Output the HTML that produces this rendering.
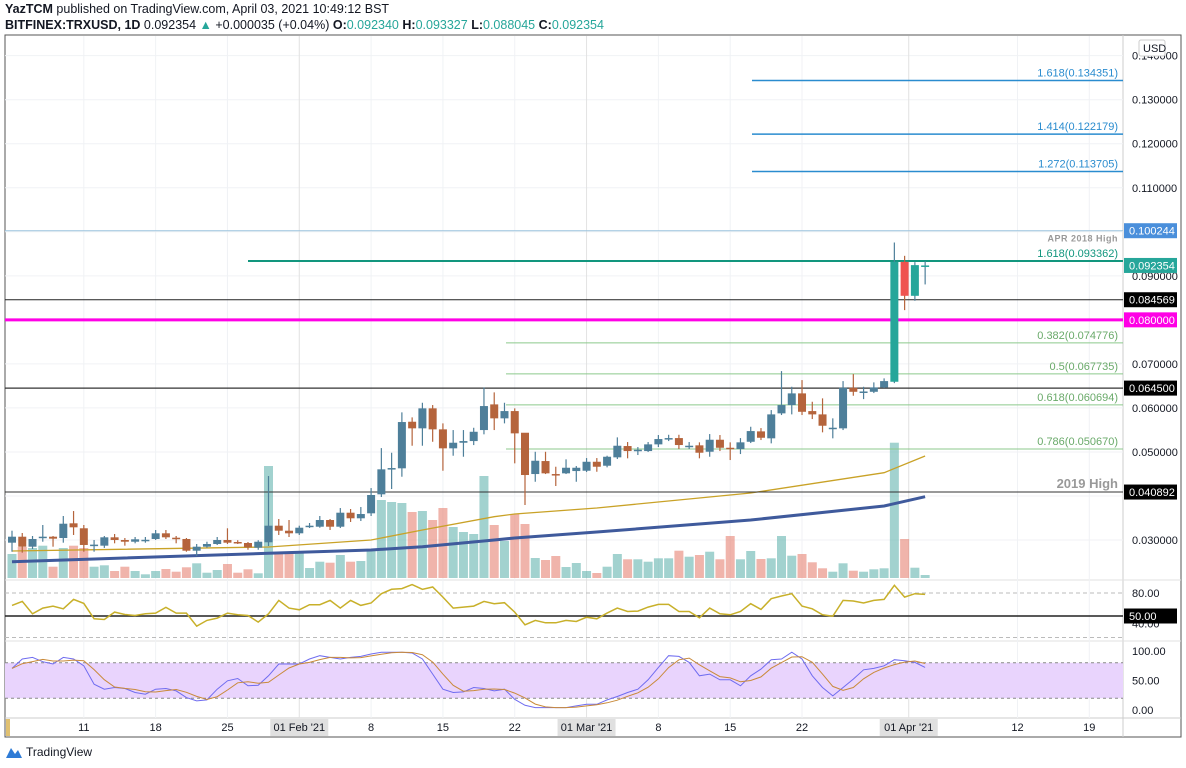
<!DOCTYPE html>
<html><head><meta charset="utf-8">
<style>
html,body{margin:0;padding:0;background:#fff;}
body{width:1186px;height:768px;overflow:hidden;font-family:"Liberation Sans",sans-serif;}
.hdr{position:absolute;left:5px;font-size:12.5px;color:#131722;white-space:nowrap;}
.t{color:#26a69a;}
svg{position:absolute;left:0;top:0;}
</style></head>
<body>
<div class="hdr" style="top:2px"><b>YazTCM</b> published on TradingView.com, April 03, 2021 10:49:12 BST</div>
<div class="hdr" style="top:18px"><b>BITFINEX:TRXUSD, 1D</b> 0.092354 <span class="t">▲</span> +0.000035 (+0.04%) <b>O:</b><span class="t">0.092340</span> <b>H:</b><span class="t">0.093327</span> <b>L:</b><span class="t">0.088045</span> <b>C:</b><span class="t">0.092354</span></div>
<svg id="chart" width="1186" height="768"></svg>
<div style="position:absolute;left:5px;top:745px;font-size:12px;color:#131722;display:flex;align-items:center;gap:3px">
<svg width="18" height="14" style="position:static"><path d="M1 13 L6 3 L10 9 L13 5 L17 13 Z" fill="#2e7bd6"/></svg>TradingView</div>
<script>
const opens=[.02939,.03075,.02848,.0305,.03075,.03045,.03379,.03266,.02887,.02871,.03061,.03,.02961,.03,.03023,.03152,.03052,.03023,.02757,.02848,.02909,.03,.02955,.02932,.02825,.02948,.03325,.03211,.03152,.0332,.03302,.03454,.03302,.0362,.03493,.03606,.04037,.04605,.04628,.05686,.05536,.0599,.05513,.05082,.05209,.05247,.05497,.0608,.05763,.05928,.05436,.04498,.04793,.04498,.04514,.04566,.04573,.04777,.04687,.04877,.05134,.05043,.0502,.05172,.05308,.05315,.05134,.0515,.05005,.05277,.05095,.05066,.05231,.05467,.05309,.05876,.06065,.0633,.05928,.05853,.05542,.05536,.06457,.06366,.06366,.06466,.06594,.09317,.08546,.09234];
const highs=[.03211,.03159,.03091,.03341,.03091,.03545,.03658,.03341,.03,.03091,.03136,.03045,.03068,.03068,.03227,.03227,.03091,.03045,.02909,.02961,.03068,.03266,.02995,.02955,.02995,.04453,.03477,.03454,.03325,.03386,.03545,.03477,.03726,.03704,.03749,.0418,.05088,.04982,.05899,.05785,.06117,.06065,.05649,.05497,.05497,.05549,.06466,.06353,.06117,.0599,.05429,.05004,.05004,.04664,.04832,.0468,.04861,.04861,.04914,.05331,.05225,.05111,.05225,.05384,.0539,.0539,.05225,.05218,.05406,.05384,.05218,.05315,.05572,.05542,.05951,.06836,.0648,.06632,.0614,.06217,.05763,.06609,.06768,.0648,.0658,.06671,.09758,.09454,.09311,.093327];
const lows=[.02734,.02712,.02796,.02961,.02848,.02939,.03114,.02734,.02734,.0282,.02925,.02871,.02925,.02939,.03,.03023,.02925,.02734,.02637,.02825,.02887,.02909,.02909,.02779,.02779,.02864,.03114,.03068,.03114,.03272,.03279,.03227,.03272,.03409,.03431,.03545,.03976,.04158,.04437,.05141,.05141,.05231,.04573,.04914,.04891,.05156,.054,.05497,.05649,.04741,.03795,.04323,.04498,.04226,.04498,.04323,.04544,.0455,.0465,.04839,.04855,.0493,.04998,.05111,.05247,.05066,.05066,.04855,.04891,.0502,.04816,.04952,.05202,.0527,.05195,.05838,.05853,.05838,.05747,.05445,.05309,.05497,.06276,.062,.06337,.0645,.06564,.08221,.08433,.088045];
const closes=[.03075,.02848,.03023,.03075,.0303,.0337,.03288,.02887,.02895,.03061,.03,.02961,.03016,.03005,.03152,.03061,.03045,.02757,.02848,.02909,.03,.02939,.0295,.02834,.02961,.03325,.03211,.03152,.03279,.03325,.03454,.03302,.0362,.03493,.0359,.04022,.04605,.04634,.05679,.05536,.0599,.05513,.05082,.05209,.05247,.05458,.06042,.05763,.05928,.05422,.04476,.048,.04514,.04491,.04641,.04641,.04777,.04664,.04891,.05141,.0502,.0505,.05172,.05293,.05315,.05157,.05141,.04982,.05277,.05095,.05082,.05218,.05474,.05322,.05853,.06065,.0633,.05912,.05853,.05595,.0555,.06457,.06366,.06373,.06466,.06609,.09317,.08546,.09243,.092354];
const volumes=[240,310,300,323,113,300,323,300,113,127,70,113,70,37,70,90,63,107,147,53,80,140,53,87,47,1120,253,257,263,100,163,153,230,163,170,280,780,760,750,660,670,580,700,510,460,440,1020,530,370,640,540,200,180,220,110,150,70,50,113,240,187,187,163,197,197,273,213,230,263,187,420,187,270,190,197,420,223,240,157,97,63,147,73,63,87,97,1353,390,103,30];
const rsiVals=[63.8,69.1,52.9,60.3,62.9,59.4,71.7,66.4,46.3,45.5,55.1,52,50.7,52.9,53.8,61.2,53.8,53.8,36.7,44.2,47.2,53.8,51.6,50.7,42,52.9,70.4,60.3,58.1,64.7,64.7,70.4,60.3,70.4,63.8,66.9,79.1,84.8,85.7,90.9,84.8,87.8,74.7,60.3,61.6,62.9,69.1,66,67.3,55.1,38.5,44.2,41.1,41.1,44.2,42.8,48.5,46.3,53.8,60.3,55.9,56.4,61.6,65.1,65.1,55.9,55.9,47.7,60.3,52.9,51.6,55.9,66,58.6,72.6,76.1,79.1,62.9,59.4,51.6,49.8,70.4,69.5,66.9,70.4,71.7,90,74.7,79.1,78.2];
const stochK=[70.5,86.4,89.2,81.8,77.9,89.2,86.4,75,43.8,35.3,38.1,36.4,29.6,26.7,35.3,36.4,32.4,21.1,15.4,17.1,35.3,49.5,53.4,41,42.1,58,77.9,77.9,77.9,86.4,92.1,89.2,86.4,89.2,90.9,94.9,98,98,98,96.6,86.4,60.8,35.3,29.6,30.7,38.1,36.4,32.4,35.3,18.2,8,4,4,4,4,6.9,9.7,9.7,17.1,22.8,29.6,35.3,51.2,72.2,92.1,90.9,80.7,58,60.8,51.2,51.2,41,58,69.3,85.2,86.4,98,86.4,58,38.1,23.9,38.1,52.3,68.2,70.5,75,85.2,83.5,80.7,72.2];
const maIdx=[0,25,35,40,47,49,57,72,85,89];
const maFast=[.0275,.02841,.03,.03227,.03529,.0359,.03726,.04067,.04528,.04907];
const maSlow=[.02507,.02698,.02773,.02848,.03,.03046,.03182,.03454,.03772,.03983];
const priceTicks=[0.14,0.13,0.12,0.11,0.09,0.07,0.06,0.05,0.03];
const dateLabels=["11","18","25","01 Feb '21","8","15","22","01 Mar '21","8","15","22","01 Apr '21","12","19"];
const dateIdx=[7,14,21,28,35,42,49,56,63,70,77,87.4,98,105];

const NS="http://www.w3.org/2000/svg";
const svg=document.getElementById('chart');
function el(tag,attrs,parent,text){const e=document.createElementNS(NS,tag);for(const k in attrs)e.setAttribute(k,attrs[k]);if(text!==undefined)e.textContent=text;(parent||svg).appendChild(e);return e;}
const X=i=>12+10.26*i;
const Y=p=>540-(p-0.03)*4403;
const VY=v=>578-v/10;
const RY=r=>616-(r-50)*0.767;
const SY=s=>710-s*0.59;
const R=1123;

let g=el('g',{});
el('rect',{x:5,y:35,width:1176,height:702,fill:'none',stroke:'#555','stroke-width':1},g);
el('line',{x1:R,y1:35,x2:R,y2:737,stroke:'#ccc'},g);
el('line',{x1:5,y1:580,x2:1181,y2:580,stroke:'#e0e0e0'},g);
el('line',{x1:5,y1:641,x2:1181,y2:641,stroke:'#e0e0e0'},g);
el('line',{x1:5,y1:718,x2:1181,y2:718,stroke:'#ccc'},g);

g=el('g',{});
priceTicks.concat([0.10,0.08,0.04]).forEach(p=>el('line',{x1:5,y1:Y(p),x2:R,y2:Y(p),stroke:'#f0f2f5'},g));
dateIdx.forEach((d,k)=>el('line',{x1:X(d),y1:36,x2:X(d),y2:718,stroke:(k==3||k==7||k==11)?'#e2e2e2':'#f0f2f5'},g));

let band=el('rect',{x:5,y:SY(80),width:R-5,height:SY(20)-SY(80),fill:'#e9d4fd'});

[80,20].forEach(v=>el('line',{x1:5,y1:SY(v),x2:R,y2:SY(v),stroke:'#888','stroke-dasharray':'3,3'}));
[80,22].forEach(v=>el('line',{x1:5,y1:RY(v),x2:R,y2:RY(v),stroke:'#bbb','stroke-dasharray':'4,3'}));
let l50=el('line',{x1:5,y1:RY(50),x2:R,y2:RY(50),stroke:'#222','stroke-width':1.5});


g=el('g',{});
volumes.forEach((v,i)=>{const up=closes[i]>=opens[i];
 const b=el('rect',{x:X(i)-4.5,y:VY(v),width:9,height:578-VY(v),fill:up?'rgba(100,180,175,0.6)':'rgba(230,130,115,0.6)'},g);
 });

function path(idx,vals,fy,fx){return idx.map((d,k)=>(k?'L':'M')+fx(d).toFixed(1)+' '+fy(vals[k]).toFixed(1)).join(' ');}
let ma1=el('path',{d:path(maIdx,maFast,Y,X),fill:'none',stroke:'#c9a227','stroke-width':1.3});

let ma2=el('path',{d:path(maIdx,maSlow,Y,X),fill:'none',stroke:'#3f5a9c','stroke-width':3});


function hline(p,x1,color,w,name){const l=el('line',{x1:x1,y1:Y(p),x2:R,y2:Y(p),stroke:color,'stroke-width':w});}
hline(0.100244,5,'#9cc3dd',1,'apr-2018-high-line');
hline(0.093362,248,'#12967e',2,'fib-1618-line');
hline(0.084569,5,'#222',1,'level-084569');
hline(0.08,5,'#ff00e6',3,'level-080000');
hline(0.0645,5,'#333',1.3,'level-064500');
hline(0.040892,5,'#333',1,'level-2019-high');
[[0.074776,'0.382'],[0.067735,'0.5'],[0.060694,'0.618'],[0.05067,'0.786']].forEach(f=>hline(f[0],506,'#8cc98c',1,'fib-retrace-'+f[1]));
[[0.134351,'1.618'],[0.122179,'1.414'],[0.113705,'1.272']].forEach(f=>hline(f[0],752,'#2a8ccf',1.5,'fib-ext-'+f[1]));

g=el('g',{});
opens.forEach((o,i)=>{const c=closes[i],up=c>=o,col=up?'#4e7f9a':'#b5643c';
 const cg=el('g',{},g);
 el('line',{x1:X(i),y1:Y(highs[i]),x2:X(i),y2:Y(lows[i]),stroke:col,'stroke-width':1.2},cg);
 const t=Math.min(Y(o),Y(c)),h=Math.max(1.5,Math.abs(Y(o)-Y(c)));
 el('rect',{x:X(i)-4,y:t,width:8,height:h,fill:i>=86?(up?'#26a69a':'#ef5350'):col},cg);});

let rp=el('path',{d:path(rsiVals.map((v,i)=>i),rsiVals,RY,X),fill:'none',stroke:'#c8b02a','stroke-width':1.5});

let sk=el('path',{d:path(stochK.map((v,i)=>i),stochK,SY,X),fill:'none',stroke:'#6f6cf0','stroke-width':1});

const stochD=stochK.map((v,i)=>{const a=stochK.slice(Math.max(0,i-2),i+1);return a.reduce((s,x)=>s+x,0)/a.length;});
let sd=el('path',{d:path(stochD.map((v,i)=>i),stochD,SY,X),fill:'none',stroke:'#c98a3a','stroke-width':1});


const F='font-family:"Liberation Sans",sans-serif;font-size:11px';
priceTicks.forEach(p=>{const t=el('text',{x:1132,y:Y(p)+4,style:F,fill:'#131722'},svg,p.toFixed(6));});
[[80,RY(80)],[40,RY(40)]].forEach(a=>el('text',{x:1132,y:a[1]+4,style:F,fill:'#131722'},svg,a[0].toFixed(2)));
[100,50,0].forEach(v=>{const t=el('text',{x:1132,y:SY(v)+4,style:F,fill:'#131722'},svg,v.toFixed(2));});
function box(y,txt,bg,fg,name){const gg=el('g',{});
 el('rect',{x:1124,y:y-7.5,width:53,height:15,fill:bg},gg);el('text',{x:1129,y:y+4,style:F,fill:fg},gg,txt);}
box(Y(0.100244),'0.100244','#4a8fdb','#fff','label-100244');
box(Y(0.092354),'0.092354','#26a69a','#fff','label-current-price');
box(Y(0.084569),'0.084569','#000','#fff','label-084569');
box(Y(0.08),'0.080000','#ff00e6','#fff','label-080000');
box(Y(0.0645),'0.064500','#000','#fff','label-064500');
box(Y(0.040892),'0.040892','#000','#fff','label-040892');
box(RY(50),'50.00','#000','#fff','label-rsi-50');
let usd=el('g',{});
el('rect',{x:1139,y:40,width:26,height:16,rx:2,fill:'#fff',stroke:'#ccc'},usd);el('text',{x:1143,y:52,style:F,fill:'#131722'},usd,'USD');

function ltxt(p,txt,col,name,size,bold){const t=el('text',{x:1118,y:Y(p)-4,'text-anchor':'end',style:'font-family:"Liberation Sans",sans-serif;font-size:'+(size||11)+'px'+(bold?';font-weight:bold':''),fill:col},svg,txt);}
ltxt(0.134351,'1.618(0.134351)','#2a8ccf','fib-ext-label');
ltxt(0.122179,'1.414(0.122179)','#2a8ccf','fib-ext-label');
ltxt(0.113705,'1.272(0.113705)','#2a8ccf','fib-ext-label');
ltxt(0.093362,'1.618(0.093362)','#12967e','fib-1618-label');
ltxt(0.074776,'0.382(0.074776)','#6aaa6a','fib-retrace-label');
ltxt(0.067735,'0.5(0.067735)','#6aaa6a','fib-retrace-label');
ltxt(0.060694,'0.618(0.060694)','#6aaa6a','fib-retrace-label');
ltxt(0.05067,'0.786(0.050670)','#6aaa6a','fib-retrace-label');
let a18=el('text',{x:1118,y:Y(0.100244)+11,'text-anchor':'end',style:'font-family:"Liberation Sans",sans-serif;font-size:9px;font-weight:bold;letter-spacing:0.5px',fill:'#999'},svg,'APR 2018 High');

ltxt(0.040892,'2019 High','#999','2019-high-label',13,true);

dateLabels.forEach((s,k)=>{const x=X(dateIdx[k]);const full=s.length>3;
 const gg=el('g',{});
 if(full){el('rect',{x:x-29,y:719,width:58,height:17,fill:'#e0e0e0'},gg);}
 el('text',{x:x,y:731,'text-anchor':'middle',style:F,fill:'#131722'},gg,s);});
el('rect',{x:6,y:719,width:4,height:17,fill:'#e0c070'});
</script>
</body></html>
